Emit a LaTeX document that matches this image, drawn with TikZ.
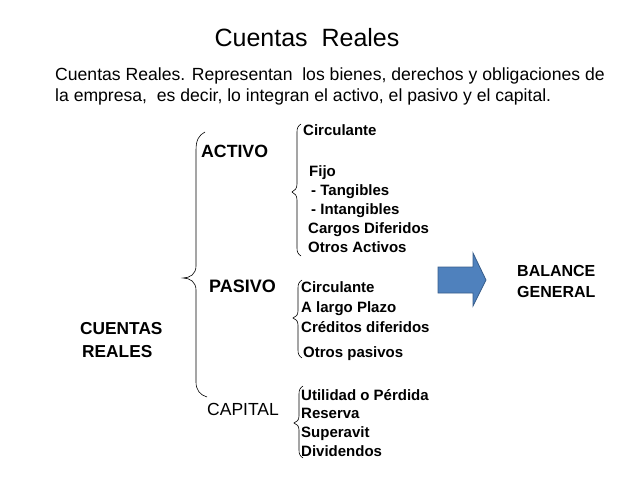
\documentclass[tikz,border=0pt]{standalone}
\usepackage{fontspec}
\setmainfont{Liberation Sans}
\begin{document}
\begin{tikzpicture}[x=1pt,y=-1pt,
  lbl/.style={anchor=west,inner sep=0pt,font=\fontsize{15}{17}\selectfont\bfseries,text height=11pt,text depth=3pt},
  head/.style={anchor=west,inner sep=0pt,font=\fontsize{17.3}{19}\selectfont\bfseries,text height=12.5pt,text depth=3pt},
  headr/.style={anchor=west,inner sep=0pt,font=\fontsize{17.5}{19}\selectfont,text height=12.5pt,text depth=3pt},
  brace/.style={draw=black,line width=0.6pt}]
\useasboundingbox (0,0) rectangle (638,479);
% title and paragraph
\node[anchor=center,inner sep=0pt,font=\fontsize{25}{28}\selectfont] (title) at (307,38) {Cuentas\ \ Reales};
\node[anchor=base west,inner sep=0pt,font=\fontsize{17.6}{21}\selectfont,align=left] (para) at (55,101)
  {Cuentas Reales. Representan\ \ los bienes, derechos y obligaciones de\\la empresa,\ \ es decir, lo integran el activo, el pasivo y el capital.};
% left label
\node[head] (cr1) at (80,330) {CUENTAS};
\node[head] (cr2) at (82,353) {REALES};
% big brace
\draw[brace] (205,132) .. controls (199,135) and (196,140) .. (196,150) -- (196,266)
  .. controls (196,274) and (190,278) .. (183,278)
  .. controls (190,278) and (196,282) .. (196,290) -- (196,382)
  .. controls (196,390) and (200,395) .. (207,397);
% ACTIVO
\node[head,font=\fontsize{17.7}{19}\selectfont\bfseries] (activo) at (201,153) {ACTIVO};
\draw[brace] (301,124) .. controls (298,126) and (297,128) .. (297,132) -- (297,184)
  .. controls (297,188) and (295,191) .. (292,192)
  .. controls (295,193) and (297,196) .. (297,200) -- (297,248)
  .. controls (297,252) and (298,254) .. (301,256);
\node[lbl] (a1) at (303,131) {Circulante};
\node[lbl] (a2) at (309,172) {Fijo};
\node[lbl] (a3) at (311,191) {- Tangibles};
\node[lbl] (a4) at (311,210) {- Intangibles};
\node[lbl] (a5) at (308,229) {Cargos Diferidos};
\node[lbl] (a6) at (308,248) {Otros Activos};
% PASIVO
\node[head,font=\fontsize{18}{20}\selectfont\bfseries] (pasivo) at (209,288) {PASIVO};
\draw[brace] (302,280) .. controls (299,282) and (298,284) .. (298,288) -- (298,311)
  .. controls (298,315) and (296,317) .. (293,318)
  .. controls (296,319) and (298,321) .. (298,325) -- (298,350)
  .. controls (298,354) and (299,356) .. (302,358);
\node[lbl] (p1) at (301,288) {Circulante};
\node[lbl] (p2) at (301,308) {A largo Plazo};
\node[lbl] (p3) at (301,328) {Créditos diferidos};
\node[lbl] (p4) at (303,353) {Otros pasivos};
% CAPITAL
\node[headr] (capital) at (207,411) {CAPITAL};
\draw[brace] (303,386) .. controls (300,388) and (299,390) .. (299,394) -- (299,416)
  .. controls (299,420) and (297,422) .. (294,423)
  .. controls (297,424) and (299,426) .. (299,430) -- (299,450)
  .. controls (299,454) and (300,456) .. (303,458);
\node[lbl] (c1) at (301,396) {Utilidad o Pérdida};
\node[lbl] (c2) at (301,414) {Reserva};
\node[lbl] (c3) at (301,433) {Superavit};
\node[lbl] (c4) at (301,452) {Dividendos};
% block arrow
\draw[fill={rgb,255:red,79;green,129;blue,189},draw={rgb,255:red,56;green,93;blue,138},line width=0.8pt]
  (438,267) -- (473,267) -- (473,253) -- (486,280) -- (473,306) -- (473,293) -- (438,293) -- cycle;
\node[head,font=\fontsize{16}{18}\selectfont\bfseries] (bal1) at (517,272) {BALANCE};
\node[head,font=\fontsize{16}{18}\selectfont\bfseries] (bal2) at (517,293) {GENERAL};
\end{tikzpicture}
\end{document}
